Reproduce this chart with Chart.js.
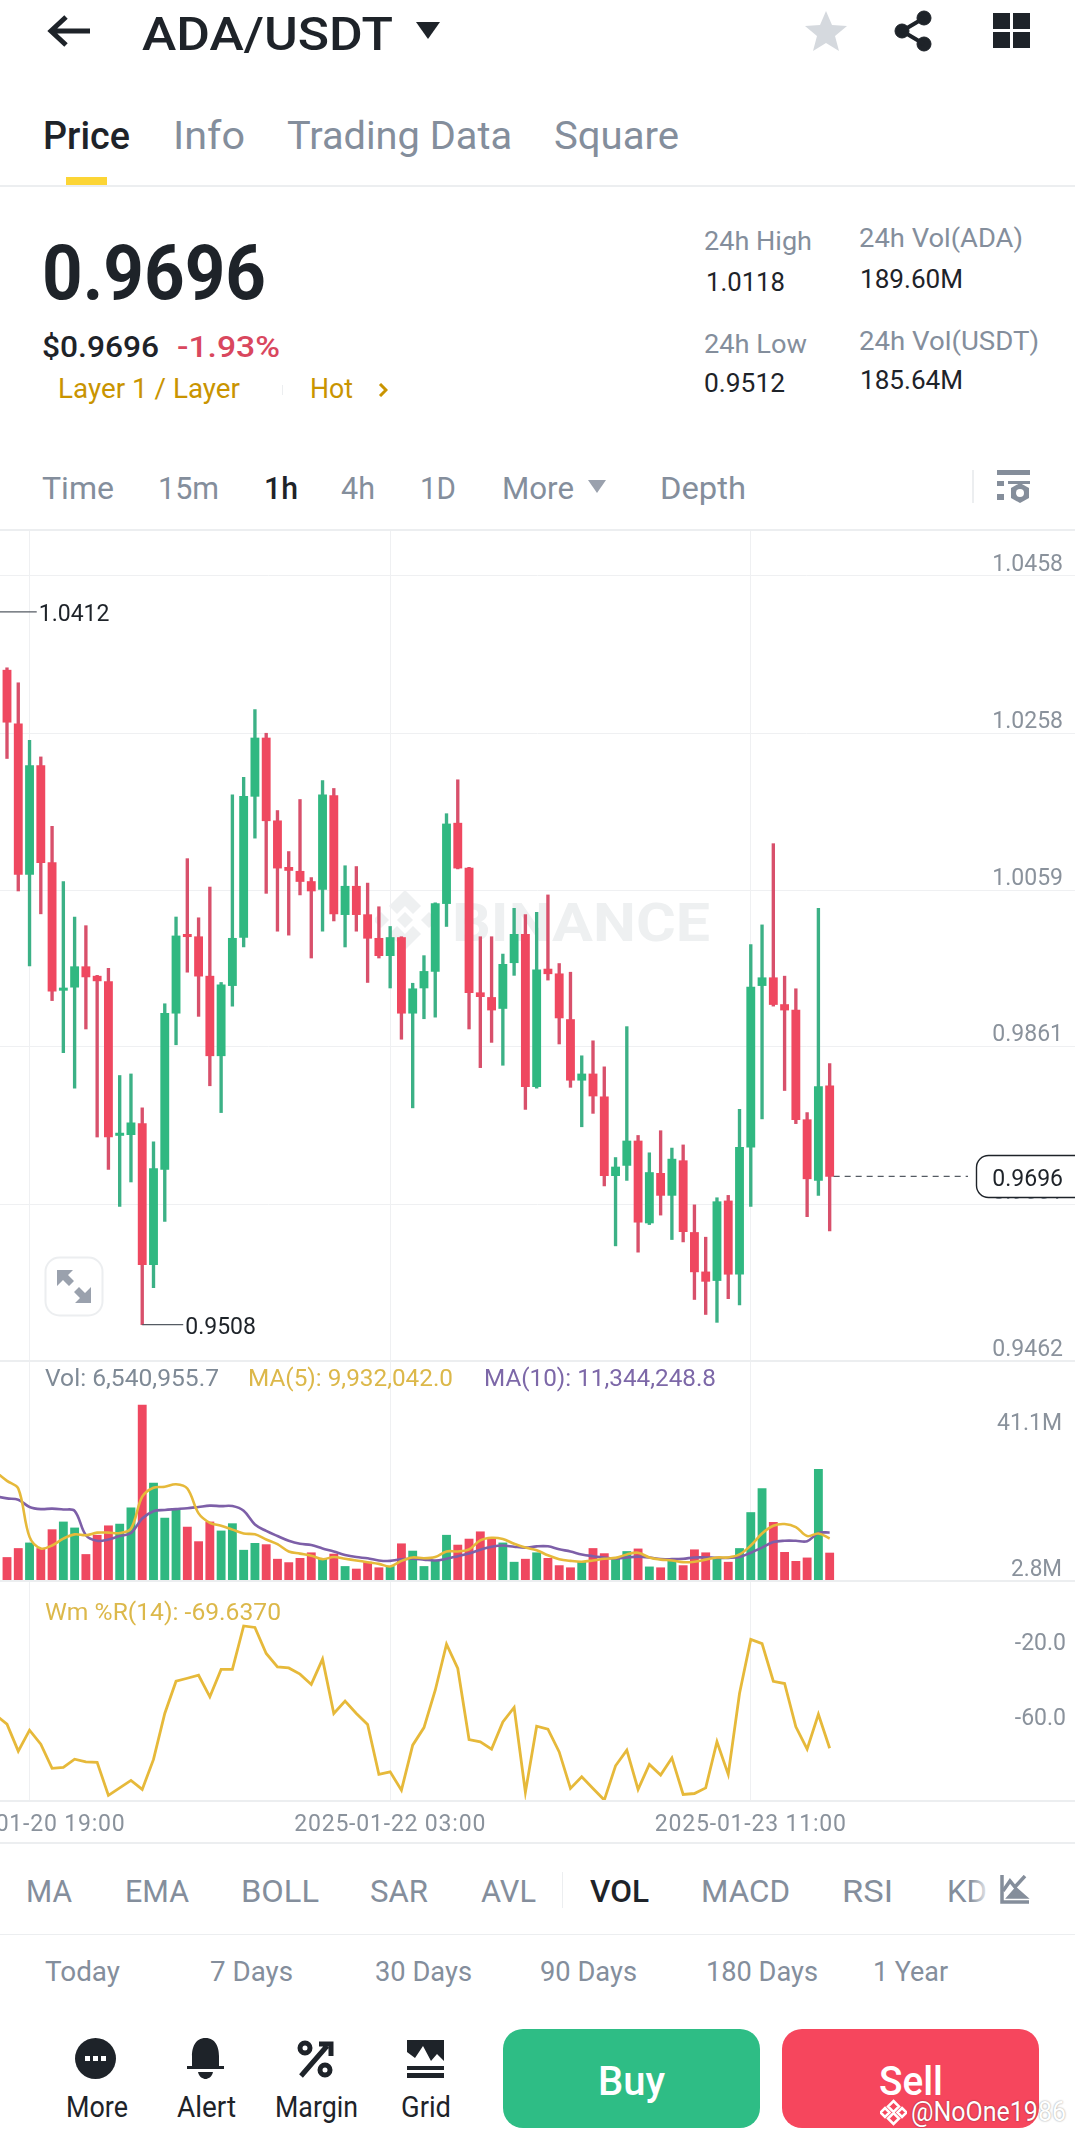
<!DOCTYPE html>
<html lang="en">
<head>
    <meta charset="UTF-8">
    <title>ADA/USDT</title>
    <script src="https://cdn.jsdelivr.net/npm/chart.js"></script>
    <style>
        html, body {
            margin: 0;
            background: #fff;
        }
        #page {
            position: relative;
            width: 1075px;
            height: 2136px;
            overflow: hidden;
            background: #fff;
            font-family: Roboto, Arial, sans-serif;
        }
        #page canvas, #page svg, .line, .txt, .btn {
            position: absolute;
        }
        .txt {
            white-space: nowrap;
            line-height: 1;
            transform-origin: left top;
        }
        .line {
            background: #eceef0;
        }
        .btn {
            border-radius: 20px;
        }
    </style>
</head>
<body>
<div id="page">
    <div class="btn" style="left:503px;top:2029px;width:257px;height:99px;background:#2ebd85"></div>
    <div class="btn" style="left:782px;top:2029px;width:257px;height:99px;background:#f6465d"></div>

    <svg style="left:375px;top:890px" width="60" height="60" viewBox="0 0 60 60" fill="#eef0f1">
        <path d="M30 0 L46 16 L38 24 L30 16 L22 24 L14 16Z M30 60 L46 44 L38 36 L30 44 L22 36 L14 44Z M6 22 L14 30 L6 38 L-2 30Z M54 22 L62 30 L54 38 L46 30Z M30 22 L38 30 L30 38 L22 30Z"/>
    </svg>

    <canvas id="priceChart" width="1075" height="832" style="left:0;top:529px"></canvas>
    <canvas id="volChart" width="1075" height="220" style="left:0;top:1361px"></canvas>
    <canvas id="wrChart" width="1075" height="262" style="left:0;top:1581px"></canvas>

    <!-- header icons -->
    <svg style="left:46px;top:13px" width="46" height="36" viewBox="0 0 46 36" fill="none" stroke="#1e2329" stroke-width="5">
        <path d="M44 18 H6 M20 4 L5 18 L20 32"/>
    </svg>
    <svg style="left:415px;top:21px" width="26" height="18" viewBox="0 0 26 18" fill="#1e2329"><path d="M1 1 H25 L13 18Z"/></svg>
    <svg style="left:804px;top:10px" width="44" height="42" viewBox="0 0 44 42" fill="#d5d9de">
        <path d="M22 1 L28 15 L43 16 L31 26 L35 41 L22 33 L9 41 L13 26 L1 16 L16 15Z"/>
    </svg>
    <svg style="left:893px;top:10px" width="42" height="42" viewBox="0 0 42 42" fill="#1e2329" stroke="#1e2329">
        <circle cx="31" cy="8" r="7"/><circle cx="9" cy="21" r="7"/><circle cx="31" cy="34" r="7"/>
        <path d="M31 8 L9 21 L31 34" fill="none" stroke-width="4"/>
    </svg>
    <svg style="left:993px;top:13px" width="38" height="36" viewBox="0 0 38 36" fill="#1e2329">
        <rect width="17" height="16"/><rect x="20" width="17" height="16"/><rect y="19" width="17" height="16"/><rect x="20" y="19" width="17" height="16"/>
    </svg>
    <div class="line" style="left:66px;top:177px;width:41px;height:9px;background:#fcd535"></div>
    <div class="line" style="left:0;top:185px;width:1075px;height:2px"></div>
    <div class="line" style="left:282px;top:385px;width:1px;height:10px"></div>
    <svg style="left:378px;top:383px" width="10" height="14" viewBox="0 0 10 14" fill="none" stroke="#c99400" stroke-width="3"><path d="M2 1 L8 7 L2 13"/></svg>

    <!-- interval row -->
    <svg style="left:588px;top:480px" width="18" height="13" viewBox="0 0 18 13" fill="#9aa1ad"><path d="M0 0 H18 L9 13Z"/></svg>
    <div class="line" style="left:972px;top:470px;width:2px;height:33px"></div>
    <svg style="left:997px;top:470px" width="34" height="34" viewBox="0 0 34 34" fill="#858e9b">
        <rect width="33" height="5"/><rect y="11" width="7" height="5"/><rect y="24" width="7" height="6"/><rect x="11" y="11" width="22" height="3"/>
        <path d="M23 13 L32 18 V28 L23 33 L14 28 V18Z"/><circle cx="23" cy="23" r="4" fill="#fff"/>
    </svg>

    <!-- chart separators -->
    <div class="line" style="left:0;top:529px;width:1075px;height:2px"></div>
    <div class="line" style="left:0;top:1360px;width:1075px;height:2px"></div>
    <div class="line" style="left:0;top:1580px;width:1075px;height:2px"></div>
    <div class="line" style="left:0;top:1800px;width:1075px;height:2px"></div>
    <div class="line" style="left:0;top:1842px;width:1075px;height:2px"></div>
    <div class="line" style="left:0;top:1934px;width:1075px;height:1px"></div>
    <div class="line" style="left:562px;top:1872px;width:1px;height:36px"></div>

    <!-- expand button -->
    <svg style="left:44px;top:1256px" width="60" height="61" viewBox="0 0 60 61" fill="#fff">
        <rect x="1.5" y="1.5" width="57" height="58" rx="14" stroke="#eceef0" stroke-width="2"/>
        <path d="M13 14 H29 L24 19 L30 25 L25 30 L19 24 L13 30Z M47 47 H31 L36 42 L30 36 L35 31 L41 37 L47 31Z" fill="#9aa1ad"/>
    </svg>

    <!-- bottom icons -->
    <div style="position:absolute;left:970px;top:1870px;width:24px;height:40px;background:linear-gradient(90deg,rgba(255,255,255,0),#fff 90%);z-index:2"></div>
    <svg style="left:1000px;top:1875px" width="30" height="29" viewBox="0 0 30 29" fill="none" stroke="#858e9b" stroke-width="3.5">
        <path d="M2 0 V27 H29"/><path d="M3 16 L10 6 L15 12 L25 1"/><path d="M9 22 H25 L16 14Z" fill="#858e9b"/>
    </svg>
    <svg style="left:75px;top:2038px" width="41" height="41" viewBox="0 0 41 41">
        <circle cx="20.5" cy="20.5" r="20.5" fill="#1e2329"/>
        <rect x="10" y="18" width="5" height="5" fill="#fff"/><rect x="18" y="18" width="5" height="5" fill="#fff"/><rect x="26" y="18" width="5" height="5" fill="#fff"/>
    </svg>
    <svg style="left:187px;top:2038px" width="37" height="41" viewBox="0 0 37 41" fill="#1e2329">
        <path d="M18.5 0 C29 0 32 10 32 18 V28 H37 V31 H0 V28 H5 V18 C5 10 8 0 18.5 0Z"/><path d="M11 34 H26 C25 39 21 41 18.5 41 C16 41 12 39 11 34Z"/>
    </svg>
    <svg style="left:297px;top:2040px" width="37" height="38" viewBox="0 0 37 38" fill="none" stroke="#1e2329" stroke-width="5">
        <path d="M4 36 L30 6 M22 4 H34 V16" /><circle cx="8" cy="8" r="5"/><circle cx="28" cy="30" r="5"/>
    </svg>
    <svg style="left:407px;top:2040px" width="37" height="38" viewBox="0 0 37 38" fill="#1e2329">
        <path d="M0 0 H37 V21 L30 14 L24 21 L16 6 L8 18 L0 12Z"/><rect y="26" width="37" height="4"/><rect y="33" width="37" height="5"/>
    </svg>
    <svg style="left:880px;top:2099px;z-index:3" width="27" height="27" viewBox="0 0 27 27" fill="none" stroke="#fff" stroke-width="2.5">
        <path d="M13.5 2 L19 7.5 L13.5 13 L8 7.5Z M13.5 14 L19 19.5 L13.5 25 L8 19.5Z M5 9 L9.5 13.5 L5 18 L0.5 13.5Z M22 9 L26.5 13.5 L22 18 L17.5 13.5Z"/>
    </svg>
</div>

<script>
    // candles, oldest first
    const opens = [1.0338, 1.0270, 1.0079, 1.0217, 1.0094, 0.9932, 0.9936, 0.9962, 0.9950, 0.9943,
        0.9748, 0.9749, 0.9763, 0.9584, 0.9705, 0.9903, 1.0003, 1.0000, 0.9950, 0.9849,
        0.9938, 0.9999, 1.0178, 1.0252, 1.0147, 1.0088, 1.0083, 1.0070, 1.0060, 1.0179,
        1.0028, 1.0064, 1.0028, 0.9998, 0.9976, 0.9999, 0.9903, 0.9935, 0.9956, 1.0042,
        1.0144, 1.0087, 0.9929, 0.9923, 0.9909, 0.9967, 1.0003, 0.9810, 0.9959, 0.9953,
        0.9895, 0.9818, 0.9826, 0.9797, 0.9697, 0.9710, 0.9741, 0.9637, 0.9700, 0.9672,
        0.9716, 0.9625, 0.9575, 0.9564, 0.9665, 0.9572, 0.9733, 0.9938, 0.9948, 0.9914,
        0.9907, 0.9768, 0.9691, 0.9811];
    const highs = [1.0341, 1.0322, 1.0249, 1.0228, 1.0140, 1.0070, 1.0025, 1.0014, 0.9951, 0.9960,
        0.9824, 0.9826, 0.9783, 0.9740, 0.9915, 1.0025, 1.0099, 1.0024, 1.0063, 0.9942,
        1.0180, 1.0202, 1.0288, 1.0258, 1.0160, 1.0108, 1.0174, 1.0075, 1.0198, 1.0188,
        1.0090, 1.0089, 1.0068, 1.0038, 1.0013, 1.0000, 0.9941, 0.9976, 1.0043, 1.0156,
        1.0199, 1.0088, 1.0000, 1.0000, 0.9978, 1.0036, 1.0028, 1.0031, 1.0053, 0.9966,
        0.9955, 0.9849, 0.9868, 0.9835, 0.9720, 0.9886, 0.9748, 0.9726, 0.9754, 0.9732,
        0.9736, 0.9660, 0.9619, 0.9669, 0.9672, 0.9781, 0.9990, 1.0015, 1.0118, 0.9950,
        0.9934, 0.9777, 1.0036, 0.9839];
    const lows = [1.0226, 1.0058, 0.9963, 1.0029, 0.9919, 0.9853, 0.9808, 0.9883, 0.9746, 0.9705,
        0.9658, 0.9689, 0.9508, 0.9555, 0.9639, 0.9863, 0.9955, 0.9899, 0.9811, 0.9777,
        0.9912, 0.9987, 1.0125, 1.0055, 1.0007, 1.0002, 1.0053, 0.9973, 1.0007, 1.0020,
        0.9987, 1.0007, 0.9942, 0.9973, 0.9935, 0.9870, 0.9783, 0.9896, 0.9898, 1.0013,
        1.0086, 0.9883, 0.9834, 0.9866, 0.9837, 0.9951, 0.9781, 0.9808, 0.9945, 0.9864,
        0.9809, 0.9759, 0.9776, 0.9684, 0.9608, 0.9691, 0.9600, 0.9635, 0.9647, 0.9616,
        0.9613, 0.9540, 0.9521, 0.9511, 0.9541, 0.9533, 0.9658, 0.9769, 0.9912, 0.9805,
        0.9763, 0.9645, 0.9672, 0.9627];
    const closes = [1.0272, 1.0079, 1.0217, 1.0094, 0.9931, 0.9935, 0.9962, 0.9949, 0.9944, 0.9746,
        0.9751, 0.9764, 0.9584, 0.9706, 0.9903, 1.0001, 1.0000, 0.9950, 0.9849, 0.9939,
        0.9998, 1.0178, 1.0252, 1.0147, 1.0087, 1.0084, 1.0070, 1.0058, 1.0180, 1.0029,
        1.0064, 1.0028, 0.9998, 0.9976, 0.9999, 0.9903, 0.9934, 0.9956, 1.0042, 1.0143,
        1.0087, 0.9929, 0.9924, 0.9907, 0.9965, 1.0003, 0.9810, 0.9958, 0.9953, 0.9897,
        0.9818, 0.9826, 0.9798, 0.9697, 0.9708, 0.9741, 0.9638, 0.9701, 0.9672, 0.9718,
        0.9626, 0.9575, 0.9563, 0.9664, 0.9572, 0.9733, 0.9936, 0.9948, 0.9914, 0.9907,
        0.9768, 0.9693, 0.9810, 0.9696];

    // volume in millions
    const volumes = [5.5, 7.6, 8.9, 7.6, 12.0, 13.8, 12.4, 6.2, 10.7, 12.9,
        13.3, 17.1, 41.1, 22.9, 14.7, 16.7, 12.6, 9.2, 13.8, 11.7,
        13.4, 7.2, 8.8, 8.5, 5.1, 4.3, 5.3, 6.6, 5.1, 6.3,
        3.4, 2.8, 4.4, 3.1, 3.4, 8.7, 7.0, 3.4, 4.8, 10.7,
        8.4, 9.8, 11.5, 9.9, 8.9, 4.4, 5.1, 6.6, 5.3, 3.6,
        3.1, 4.4, 7.6, 6.4, 5.2, 6.9, 7.5, 3.3, 3.1, 4.7,
        3.6, 7.3, 6.6, 5.2, 4.4, 7.6, 16.0, 21.6, 13.7, 6.7,
        4.6, 5.4, 26.1, 6.54];

    // the first value of these three belongs to the candle just left of the screen
    const ma5 = [25.5, 23.4, 21.6, 10.3, 7.6, 8.3, 9.9, 10.9, 10.7, 11.3, 11.3,
        11.2, 12.2, 19.7, 21.8, 22.0, 22.6, 21.6, 15.8, 13.6, 12.9,
        12.0, 11.1, 10.9, 9.7, 8.6, 6.9, 6.4, 5.9, 5.1, 5.6,
        5.2, 4.8, 4.4, 4.0, 3.4, 4.7, 5.5, 5.3, 5.6, 6.9,
        6.9, 7.4, 9.5, 10.1, 9.8, 8.7, 7.8, 7.2, 6.0, 5.1,
        4.7, 4.5, 4.8, 5.2, 5.4, 6.2, 6.6, 5.5, 5.0, 4.8,
        4.4, 4.5, 5.0, 5.5, 5.5, 6.2, 8.3, 11.1, 12.9, 13.3,
        12.6, 10.5, 11.1, 9.93];
    const ma10 = [19.8, 19.3, 19.0, 17.3, 16.8, 16.9, 16.7, 16.4, 10.7, 9.4, 9.7,
        10.5, 11.2, 14.6, 16.3, 16.6, 16.8, 17.0, 17.3, 17.6, 17.5,
        17.5, 16.4, 13.2, 11.7, 10.5, 9.4, 8.7, 8.4, 7.6, 6.9,
        6.1, 5.6, 5.3, 4.8, 4.7, 5.1, 5.2, 5.0, 4.8, 5.2,
        5.8, 6.4, 7.3, 8.0, 8.3, 8.0, 7.8, 8.1, 8.1, 7.4,
        6.9, 6.2, 5.8, 5.5, 5.2, 5.5, 5.7, 5.5, 5.1, 5.1,
        5.2, 5.5, 5.5, 5.4, 5.4, 5.6, 6.6, 7.8, 9.1, 9.4,
        9.4, 9.3, 11.2, 11.34];
    const williamsR = [-52.0, -56.8, -71.2, -60.0, -67.5, -80.4, -79.9, -75.5, -76.9, -77.2, -94.8,
        -90.8, -86.8, -91.6, -75.6, -51.1, -33.9, -32.3, -30.7, -42.2, -27.6,
        -27.5, -4.4, -5.2, -19.1, -26.2, -26.8, -30.1, -35.6, -22.1, -51.1,
        -44.5, -51.1, -57.0, -83.6, -82.2, -92.0, -68.0, -58.6, -38.7, -14.1,
        -27.1, -65.0, -66.2, -70.1, -55.6, -47.9, -93.1, -57.9, -59.5, -71.6,
        -91.1, -84.9, -91.1, -97.3, -79.0, -70.7, -91.6, -78.3, -84.0, -74.8,
        -94.3, -93.8, -90.8, -66.2, -83.6, -40.4, -11.6, -13.8, -33.9, -35.1,
        -58.2, -70.1, -51.5, -69.637];

    const priceTicks = [1.0458, 1.0258, 1.0059, 0.9861, 0.9661, 0.9462];
    const wrTicks = [-20, -60];
    const timeTickIndex = [2, 34, 66];
    const timeLabels = ['2025-01-20 19:00', '2025-01-22 03:00', '2025-01-23 11:00'];
    const lastPrice = 0.9696;
    const highMark = { index: -1, value: 1.0412 };
    const lowMark = { index: 12, value: 0.9508 };

    const GREEN = '#30b881';
    const RED = '#ef4860';
    const GREEN_WICK = '#3cb186';
    const RED_WICK = '#d8506b';
    const GRID = '#eff0f2';
    const AXIS_TEXT = '#8a929c';
    const AXIS_FONT = '23px Roboto';
    const X_MIN = -0.621;
    const X_MAX = 94.77;

    const isUp = opens.map((o, i) => closes[i] >= o);

    // x axis that draws only the three vertical grid lines
    function timeAxis() {
        return {
            type: 'linear',
            offset: false,
            min: X_MIN,
            max: X_MAX,
            afterBuildTicks: axis => { axis.ticks = timeTickIndex.map(v => ({ value: v })); },
            ticks: { display: false },
            grid: { offset: false, color: GRID, drawTicks: false, tickLength: 0 },
            border: { display: false }
        };
    }

    function valueAxis(min, max, tickValues) {
        return {
            min: min,
            max: max,
            afterBuildTicks: axis => { axis.ticks = tickValues.map(v => ({ value: v })); },
            ticks: { display: false },
            grid: { display: tickValues === priceTicks, color: GRID, drawTicks: false, tickLength: 0 },
            border: { display: false }
        };
    }

    function baseOptions(x, y) {
        return {
            responsive: false,
            animation: false,
            events: [],
            layout: { padding: 0 },
            scales: { x: x, y: y },
            plugins: { legend: { display: false }, tooltip: { enabled: false } }
        };
    }

    // right side labels sit a little above their value
    function rightLabels(values, format, rightEdge) {
        return {
            id: 'rightLabels',
            afterDraw(chart) {
                const ctx = chart.ctx;
                ctx.save();
                ctx.font = AXIS_FONT;
                ctx.fillStyle = AXIS_TEXT;
                ctx.textAlign = 'right';
                values.forEach(v => {
                    ctx.fillText(format(v), rightEdge, chart.scales.y.getPixelForValue(v) - 5);
                });
                ctx.restore();
            }
        };
    }

    const priceMarks = {
        id: 'priceMarks',
        afterDraw(chart) {
            const ctx = chart.ctx;
            const x = chart.scales.x;
            const y = chart.scales.y;
            ctx.save();
            ctx.font = AXIS_FONT;
            [highMark, lowMark].forEach(m => {
                const px = x.getPixelForValue(m.index);
                const py = y.getPixelForValue(m.value);
                ctx.strokeStyle = '#555b63';
                ctx.lineWidth = 1.2;
                ctx.beginPath();
                ctx.moveTo(px, py);
                ctx.lineTo(px + 41, py);
                ctx.stroke();
                ctx.fillStyle = '#1e2329';
                ctx.textAlign = 'left';
                ctx.fillText(m.value.toFixed(4), px + 43, py + 9);
            });

            const lastX = x.getPixelForValue(opens.length - 1) + 4;
            const lastY = y.getPixelForValue(lastPrice);
            ctx.strokeStyle = '#555b63';
            ctx.setLineDash([6, 5]);
            ctx.beginPath();
            ctx.moveTo(lastX, lastY);
            ctx.lineTo(968, lastY);
            ctx.stroke();
            ctx.setLineDash([]);

            ctx.fillStyle = '#fff';
            ctx.strokeStyle = '#1e2329';
            ctx.lineWidth = 1.4;
            ctx.beginPath();
            ctx.roundRect(976.5, lastY - 21, 110, 42, 12);
            ctx.fill();
            ctx.stroke();
            ctx.fillStyle = '#1e2329';
            ctx.textAlign = 'right';
            ctx.fillText(lastPrice.toFixed(4), 1063, lastY + 10);
            ctx.restore();
        }
    };

    const timeAxisLabels = {
        id: 'timeAxisLabels',
        afterDraw(chart) {
            const ctx = chart.ctx;
            ctx.save();
            ctx.font = AXIS_FONT;
            ctx.letterSpacing = '0.8px';
            ctx.fillStyle = AXIS_TEXT;
            ctx.textAlign = 'center';
            timeTickIndex.forEach((v, i) => {
                ctx.fillText(timeLabels[i], chart.scales.x.getPixelForValue(v), 1831 - 1581);
            });
            ctx.restore();
        }
    };

    new Chart(document.getElementById('priceChart'), {
        type: 'bar',
        data: {
            datasets: [{
                data: lows.map((l, i) => ({ x: i, y: [l, highs[i]] })),
                backgroundColor: isUp.map(u => u ? GREEN_WICK : RED_WICK),
                barThickness: 2.7,
                grouped: false,
                order: 2
            }, {
                data: opens.map((o, i) => ({ x: i, y: [o, closes[i]] })),
                backgroundColor: isUp.map(u => u ? GREEN : RED),
                barThickness: 8.2,
                grouped: false,
                order: 1
            }]
        },
        options: baseOptions(timeAxis(), valueAxis(0.9462, 1.0517, priceTicks)),
        plugins: [rightLabels(priceTicks, v => v.toFixed(4), 1063), priceMarks]
    });

    new Chart(document.getElementById('volChart'), {
        data: {
            datasets: [{
                type: 'line',
                data: ma5.map((v, i) => ({ x: i - 1, y: v })),
                borderColor: '#e6b93a',
                borderWidth: 2.6,
                pointRadius: 0,
                tension: 0.35,
                order: 0
            }, {
                type: 'line',
                data: ma10.map((v, i) => ({ x: i - 1, y: v })),
                borderColor: '#7d5fa8',
                borderWidth: 2.6,
                pointRadius: 0,
                tension: 0.35,
                order: 1
            }, {
                type: 'bar',
                data: volumes.map((v, i) => ({ x: i, y: v })),
                backgroundColor: isUp.map(u => u ? GREEN : RED),
                barThickness: 8.2,
                order: 2
            }]
        },
        options: baseOptions(timeAxis(), valueAxis(0, 51.4, []))
    });

    const wrOptions = baseOptions(timeAxis(), valueAxis(-97.8, 19.6, wrTicks));
    wrOptions.layout.padding = { bottom: 42 };
    new Chart(document.getElementById('wrChart'), {
        type: 'line',
        data: {
            datasets: [{
                data: williamsR.map((v, i) => ({ x: i - 1, y: v })),
                borderColor: '#e6b93a',
                borderWidth: 2.8,
                pointRadius: 0,
                tension: 0
            }]
        },
        options: wrOptions,
        plugins: [rightLabels(wrTicks, v => v.toFixed(1), 1066), timeAxisLabels]
    });

    // page text: text, left, right, baseline, size, colour, weight
    const DARK = '#1e2329';
    const GREY = '#848e9c';
    const GOLD = '#c99400';
    const pageText = [
        ['ADA/USDT', 142, 393, 50, 46, DARK, 500],
        ['Price', 43, 130, 149, 38, DARK, 500],
        ['Info', 173, 245, 149, 38, GREY, 400],
        ['Trading Data', 287, 512, 149, 38, GREY, 400],
        ['Square', 554, 679, 149, 38, GREY, 400],
        ['0.9696', 42, 266, 299, 76, DARK, 700],
        ['$0.9696', 42, 159, 357, 30, DARK, 500],
        ['-1.93%', 177, 280, 357, 30, '#d9475e', 500],
        ['Layer 1 / Layer', 58, 240, 399, 27, GOLD, 400],
        ['Hot', 310, 353, 399, 27, GOLD, 400],
        ['24h High', 704, 812, 250, 26, GREY, 400],
        ['1.0118', 706, 785, 291, 26, DARK, 400],
        ['24h Vol(ADA)', 859, 1023, 247, 26, GREY, 400],
        ['189.60M', 860, 963, 288, 26, DARK, 400],
        ['24h Low', 704, 807, 353, 26, GREY, 400],
        ['0.9512', 704, 785, 392, 26, DARK, 400],
        ['24h Vol(USDT)', 859, 1039, 350, 26, GREY, 400],
        ['185.64M', 860, 963, 389, 26, DARK, 400],
        ['Time', 42, 114, 499, 31, GREY, 400],
        ['15m', 158, 219, 499, 31, GREY, 400],
        ['1h', 264, 298, 499, 31, DARK, 500],
        ['4h', 341, 375, 499, 31, GREY, 400],
        ['1D', 420, 456, 499, 31, GREY, 400],
        ['More', 502, 574, 499, 31, GREY, 400],
        ['Depth', 660, 746, 499, 31, GREY, 400],
        ['BINANCE', 452, 710, 942, 53, '#eef0f1', 700],
        ['Vol: 6,540,955.7', 45, 219, 1386, 23, '#7f8a96', 400],
        ['MA(5): 9,932,042.0', 248, 453, 1386, 23, '#dcb84a', 400],
        ['MA(10): 11,344,248.8', 484, 716, 1386, 23, '#7d68a8', 400],
        ['41.1M', 997, 1062, 1430, 23, AXIS_TEXT, 400],
        ['2.8M', 1011, 1062, 1576, 23, AXIS_TEXT, 400],
        ['Wm %R(14): -69.6370', 45, 281, 1620, 23, '#dcb84a', 400],
        ['MA', 26, 72, 1902, 31, GREY, 400],
        ['EMA', 125, 189, 1902, 31, GREY, 400],
        ['BOLL', 241, 319, 1902, 31, GREY, 400],
        ['SAR', 370, 428, 1902, 31, GREY, 400],
        ['AVL', 481, 536, 1902, 31, GREY, 400],
        ['VOL', 590, 649, 1902, 31, DARK, 500],
        ['MACD', 701, 790, 1902, 31, GREY, 400],
        ['RSI', 842, 893, 1902, 31, GREY, 400],
        ['KD', 947, 987, 1902, 31, GREY, 400],
        ['Today', 45, 120, 1982, 27, GREY, 400],
        ['7 Days', 210, 293, 1982, 27, GREY, 400],
        ['30 Days', 375, 472, 1982, 27, GREY, 400],
        ['90 Days', 540, 637, 1982, 27, GREY, 400],
        ['180 Days', 706, 818, 1982, 27, GREY, 400],
        ['1 Year', 873, 948, 1982, 27, GREY, 400],
        ['More', 66, 128, 2117, 29, DARK, 400],
        ['Alert', 177, 236, 2117, 29, DARK, 400],
        ['Margin', 275, 358, 2117, 29, DARK, 400],
        ['Grid', 401, 451, 2117, 29, DARK, 400],
        ['Buy', 598, 665, 2096, 40, '#fff', 500],
        ['Sell', 879, 943, 2096, 40, '#fff', 500],
        ['@NoOne1986', 911, 1066, 2122, 27, '#fff', 400]
    ];

    const page = document.getElementById('page');
    pageText.forEach(([text, left, right, base, size, color, weight]) => {
        const el = document.createElement('div');
        el.className = 'txt';
        el.textContent = text;
        el.style.left = left + 'px';
        el.style.top = (base - 0.841 * size) + 'px';
        el.style.fontSize = size + 'px';
        el.style.color = color;
        el.style.fontWeight = weight;
        if (text === 'KD') el.style.zIndex = 1;
        if (text.startsWith('@')) {
            el.style.zIndex = 3;
            el.style.textShadow = '0 0 2px rgba(0,0,0,0.45)';
        }
        if (text === 'BINANCE') page.insertBefore(el, page.firstChild);
        else page.appendChild(el);
        el.style.transform = `scaleX(${(right - left) / el.getBoundingClientRect().width})`;
    });
</script>
</body>
</html>
